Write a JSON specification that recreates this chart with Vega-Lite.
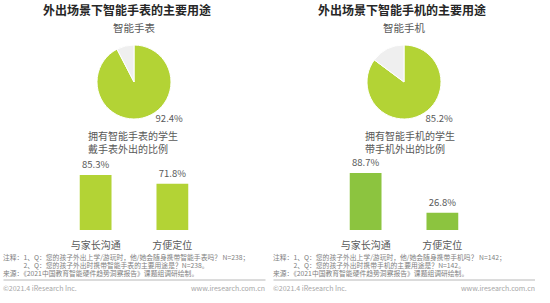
{
  "$schema": "https://vega.github.io/schema/vega-lite/v6.json",
  "padding": {"left": 3, "top": 5, "right": 0, "bottom": 0},
  "background": "white",
  "spacing": 8,
  "config": {
    "view": {"stroke": null},
    "font": "Noto Sans CJK SC",
    "title": {"font": "Noto Sans CJK SC", "fontWeight": "normal", "subtitleFont": "Noto Sans CJK SC"}
  },
  "hconcat": [
    {
      "title": {"text": "外出场景下智能手表的主要用途", "fontSize": 12, "fontWeight": "bold", "color": "#262626", "anchor": "middle", "dx": -7, "offset": 6},
      "spacing": 4,
      "vconcat": [
        {
          "width": 262, "height": 92,
          "title": {"text": "智能手表", "fontSize": 10.5, "color": "#595959", "offset": 1.5},
          "data": {"values": [{"k": "有", "v": 0.924}, {"k": "无", "v": 0.076}]},
          "layer": [
            {
              "mark": {"type": "arc", "outerRadius": 37, "stroke": "white", "strokeWidth": 1},
              "encoding": {
                "theta": {"field": "v", "type": "quantitative", "stack": true},
                "color": {"field": "k", "type": "nominal", "scale": {"domain": ["有", "无"], "range": ["#b3d335", "#efefef"]}, "legend": null},
                "order": {"field": "v", "sort": "descending"}
              }
            },
            {
              "transform": [{"filter": "datum.k === '有'"}],
              "mark": {"type": "text", "theta": 2.38, "radius": 51, "fontSize": 9.5, "color": "#595959"},
              "encoding": {"text": {"field": "v", "type": "quantitative", "format": ".1%"}}
            }
          ]
        },
        {
          "width": 262, "height": 74,
          "title": {"text": "拥有智能手表的学生", "subtitle": "戴手表外出的比例", "anchor": "start", "dx": 85, "fontSize": 10, "color": "#595959", "subtitleFontSize": 10, "subtitleColor": "#595959", "subtitlePadding": 2.5, "offset": 1.5},
          "data": {"values": [{"c": "与家长沟通", "v": 0.853}, {"c": "方便定位", "v": 0.718}]},
          "encoding": {
            "x": {"field": "c", "type": "nominal", "sort": null, "scale": {"paddingInner": 0.586, "paddingOuter": 1.1},
                  "axis": {"title": null, "domain": false, "ticks": false, "labelAngle": 0, "labelPadding": 10, "labelFontSize": 10, "labelColor": "#595959"}},
            "y": {"field": "v", "type": "quantitative", "scale": {"domain": [0, 1.15], "nice": false}, "axis": null}
          },
          "layer": [
            {"mark": {"type": "bar", "color": "#b3d335"}},
            {"mark": {"type": "text", "dy": -7, "baseline": "alphabetic", "fontSize": 9.5, "color": "#595959"},
             "encoding": {"text": {"field": "v", "type": "quantitative", "format": ".1%"}}}
          ]
        },
        {
          "width": 262, "height": 24.5,
          "data": {"values": [
            {"line": 1, "t": "注释：1、Q：您的孩子外出上学/游玩时，他/她会随身携带智能手表吗？ N=238；"},
            {"line": 2, "t": "\u200b\u3000\u3000\u30002、Q：您的孩子外出时携带智能手表的主要用途是？N=238。"},
            {"line": 3, "t": "来源：《2021中国教育智能硬件趋势洞察报告》课题组调研绘制。"}
          ]},
          "mark": {"type": "text", "align": "left", "baseline": "middle", "fontSize": 6.8, "color": "#808080"},
          "encoding": {
            "x": {"datum": "L", "type": "nominal", "scale": {"type": "point", "padding": 0, "domain": ["L", "R"]},
                  "axis": {"orient": "bottom", "labels": false, "ticks": false, "title": null, "domainColor": "#a6a6a6", "domainWidth": 0.8}},
            "y": {"field": "line", "type": "ordinal", "scale": {"type": "point", "padding": 0.47, "align": 0.33}, "axis": null},
            "text": {"field": "t", "type": "nominal"}
          }
        },
        {
          "width": 262, "height": 10,
          "data": {"values": [{"t": "©2021.4 iResearch Inc.", "w": "www.iresearch.com.cn"}]},
          "layer": [
            {"mark": {"type": "text", "align": "left", "fontSize": 7, "color": "#a6a6a6"},
             "encoding": {"x": {"datum": "L", "type": "nominal", "scale": {"type": "point", "padding": 0, "domain": ["L", "R"]}, "axis": null},
                          "text": {"field": "t", "type": "nominal"}}},
            {"mark": {"type": "text", "align": "right", "fontSize": 7, "color": "#a6a6a6"},
             "encoding": {"x": {"datum": "R", "type": "nominal", "scale": {"type": "point", "padding": 0, "domain": ["L", "R"]}, "axis": null},
                          "text": {"field": "w", "type": "nominal"}}}
          ]
        }
      ]
    },
    {
      "title": {"text": "外出场景下智能手机的主要用途", "fontSize": 12, "fontWeight": "bold", "color": "#262626", "anchor": "middle", "dx": -2, "offset": 6},
      "spacing": 4,
      "vconcat": [
        {
          "width": 262, "height": 92,
          "title": {"text": "智能手机", "fontSize": 10.5, "color": "#595959", "offset": 1.5},
          "data": {"values": [{"k": "有", "v": 0.852}, {"k": "无", "v": 0.148}]},
          "layer": [
            {
              "mark": {"type": "arc", "outerRadius": 37, "stroke": "white", "strokeWidth": 1},
              "encoding": {
                "theta": {"field": "v", "type": "quantitative", "stack": true},
                "color": {"field": "k", "type": "nominal", "scale": {"domain": ["有", "无"], "range": ["#8cc43f", "#efefef"]}, "legend": null},
                "order": {"field": "v", "sort": "descending"}
              }
            },
            {
              "transform": [{"filter": "datum.k === '有'"}],
              "mark": {"type": "text", "theta": 2.38, "radius": 51, "fontSize": 9.5, "color": "#595959"},
              "encoding": {"text": {"field": "v", "type": "quantitative", "format": ".1%"}}
            }
          ]
        },
        {
          "width": 262, "height": 74,
          "title": {"text": "拥有智能手机的学生", "subtitle": "带手机外出的比例", "anchor": "start", "dx": 92, "fontSize": 10, "color": "#595959", "subtitleFontSize": 10, "subtitleColor": "#595959", "subtitlePadding": 2.5, "offset": 1.5},
          "data": {"values": [{"c": "与家长沟通", "v": 0.887}, {"c": "方便定位", "v": 0.268}]},
          "encoding": {
            "x": {"field": "c", "type": "nominal", "sort": null, "scale": {"paddingInner": 0.586, "paddingOuter": 1.1},
                  "axis": {"title": null, "domain": false, "ticks": false, "labelAngle": 0, "labelPadding": 10, "labelFontSize": 10, "labelColor": "#595959"}},
            "y": {"field": "v", "type": "quantitative", "scale": {"domain": [0, 1.15], "nice": false}, "axis": null}
          },
          "layer": [
            {"mark": {"type": "bar", "color": "#8cc43f"}},
            {"mark": {"type": "text", "dy": -7, "baseline": "alphabetic", "fontSize": 9.5, "color": "#595959"},
             "encoding": {"text": {"field": "v", "type": "quantitative", "format": ".1%"}}}
          ]
        },
        {
          "width": 262, "height": 24.5,
          "data": {"values": [
            {"line": 1, "t": "注释：1、Q：您的孩子外出上学/游玩时，他/她会随身携带手机吗？ N=142；"},
            {"line": 2, "t": "\u200b\u3000\u3000\u30002、Q：您的孩子外出时携带手机的主要用途是？N=142。"},
            {"line": 3, "t": "来源：《2021中国教育智能硬件趋势洞察报告》课题组调研绘制。"}
          ]},
          "mark": {"type": "text", "align": "left", "baseline": "middle", "fontSize": 6.8, "color": "#808080"},
          "encoding": {
            "x": {"datum": "L", "type": "nominal", "scale": {"type": "point", "padding": 0, "domain": ["L", "R"]},
                  "axis": {"orient": "bottom", "labels": false, "ticks": false, "title": null, "domainColor": "#a6a6a6", "domainWidth": 0.8}},
            "y": {"field": "line", "type": "ordinal", "scale": {"type": "point", "padding": 0.47, "align": 0.33}, "axis": null},
            "text": {"field": "t", "type": "nominal"}
          }
        },
        {
          "width": 262, "height": 10,
          "data": {"values": [{"t": "©2021.4 iResearch Inc.", "w": "www.iresearch.com.cn"}]},
          "layer": [
            {"mark": {"type": "text", "align": "left", "fontSize": 7, "color": "#a6a6a6"},
             "encoding": {"x": {"datum": "L", "type": "nominal", "scale": {"type": "point", "padding": 0, "domain": ["L", "R"]}, "axis": null},
                          "text": {"field": "t", "type": "nominal"}}},
            {"mark": {"type": "text", "align": "right", "fontSize": 7, "color": "#a6a6a6"},
             "encoding": {"x": {"datum": "R", "type": "nominal", "scale": {"type": "point", "padding": 0, "domain": ["L", "R"]}, "axis": null},
                          "text": {"field": "w", "type": "nominal"}}}
          ]
        }
      ]
    }
  ]
}
